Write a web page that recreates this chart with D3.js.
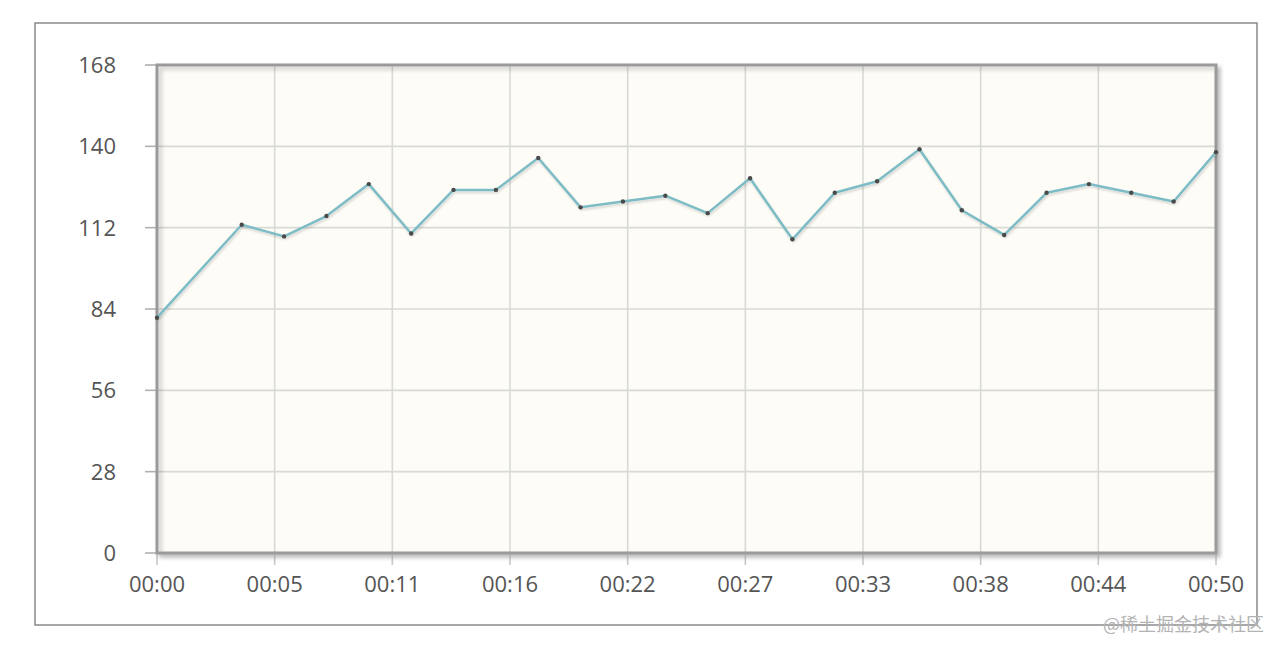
<!DOCTYPE html>
<html><head><meta charset="utf-8">
<script src="https://cdn.jsdelivr.net/npm/d3@7"></script>
<style>html,body{margin:0;padding:0;background:#fff;}svg{display:block;}</style>
</head><body>
<svg id="c" width="1284" height="652"></svg>
<script>
const minutes = [0,4,6,8,10,12,14,16,18,20,22,24,26,28,30,32,34,36,38,40,42,44,46,48,50];
const values  = [81,113,109,116,127,110,125,125,136,119,121,123,117,129,108,124,128,139,118,109.5,124,127,124,121,138];
const yTicks = [0,28,56,84,112,140,168];
const xTickLabels = ["00:00","00:05","00:11","00:16","00:22","00:27","00:33","00:38","00:44","00:50"];
const xTickValues = [0,5.556,11.111,16.667,22.222,27.778,33.333,38.889,44.444,50];

const svg = d3.select("#c");
const L=157,R=1216,T=65,B=553;
const x = d3.scaleLinear().domain([0,50]).range([L,R]);
const y = d3.scaleLinear().domain([0,168]).range([B,T]);

const defs = svg.append("defs");
const f = defs.append("filter").attr("id","sh").attr("x","-10%").attr("y","-10%").attr("width","130%").attr("height","130%");
f.append("feDropShadow").attr("dx",3).attr("dy",3).attr("stdDeviation",2).attr("flood-color","#000").attr("flood-opacity",0.22);
const f2 = defs.append("filter").attr("id","lsh").attr("x","-10%").attr("y","-10%").attr("width","120%").attr("height","130%");
f2.append("feDropShadow").attr("dx",1).attr("dy",2).attr("stdDeviation",1).attr("flood-color","#000").attr("flood-opacity",0.15);

// outer border
svg.append("rect").attr("x",35).attr("y",23).attr("width",1222).attr("height",602)
  .attr("fill","none").attr("stroke","#8a8a8a").attr("stroke-width",1.5);

// plot background with shadow
svg.append("rect").attr("x",L).attr("y",T).attr("width",R-L).attr("height",B-T)
  .attr("fill","#fdfcf7").attr("filter","url(#sh)");

// grid
const g = svg.append("g");
g.selectAll(".gy").data(yTicks.filter(v=>v>0&&v<168)).join("line")
  .attr("x1",L).attr("x2",R).attr("y1",d=>y(d)).attr("y2",d=>y(d))
  .attr("stroke","#d9d9d6").attr("stroke-width",1.6);
g.selectAll(".gx").data(xTickValues.slice(1,-1)).join("line")
  .attr("y1",T).attr("y2",B).attr("x1",d=>x(d)).attr("x2",d=>x(d))
  .attr("stroke","#d9d9d6").attr("stroke-width",1.6);

// tick marks
svg.append("g").selectAll("line").data(yTicks).join("line")
  .attr("x1",145).attr("x2",L).attr("y1",d=>y(d)).attr("y2",d=>y(d))
  .attr("stroke","#b0b0b0").attr("stroke-width",1.6);
svg.append("g").selectAll("line").data(xTickValues).join("line")
  .attr("y1",B).attr("y2",565).attr("x1",d=>x(d)).attr("x2",d=>x(d))
  .attr("stroke","#c8c8c8").attr("stroke-width",1.6);

// border box
svg.append("rect").attr("x",L).attr("y",T).attr("width",R-L).attr("height",B-T)
  .attr("fill","none").attr("stroke","#9a9a9a").attr("stroke-width",3).attr("filter","url(#sh)");

// line
const line = d3.line().x((d,i)=>x(minutes[i])).y(d=>y(d));
svg.append("path").datum(values).attr("d",line).attr("fill","none")
  .attr("stroke","#7dbcc5").attr("stroke-width",2.5).attr("stroke-linejoin","round").attr("filter","url(#lsh)");
svg.append("g").selectAll("circle").data(values).join("circle")
  .attr("cx",(d,i)=>x(minutes[i])).attr("cy",d=>y(d)).attr("r",2.2).attr("fill","#4a4a4a");

// labels
const font = "'Open Sans', 'DejaVu Sans', sans-serif";
svg.append("g").selectAll("text").data(yTicks).join("text")
  .attr("x",116).attr("y",d=>y(d)).attr("dy","0.36em").attr("text-anchor","end")
  .attr("font-family",font).attr("font-size",22).attr("fill","#555").text(d=>d);
svg.append("g").selectAll("text").data(xTickValues).join("text")
  .attr("x",d=>x(d)).attr("y",592).attr("text-anchor","middle")
  .attr("font-family",font).attr("font-size",22).attr("fill","#555").text((d,i)=>xTickLabels[i]);

// watermark
svg.append("text").attr("x",1264).attr("y",631).attr("text-anchor","end")
  .attr("font-family","'Noto Sans CJK SC', sans-serif").attr("font-size",18)
  .attr("fill","#b3b3b3").text("@稀土掘金技术社区");
</script>
</body></html>
